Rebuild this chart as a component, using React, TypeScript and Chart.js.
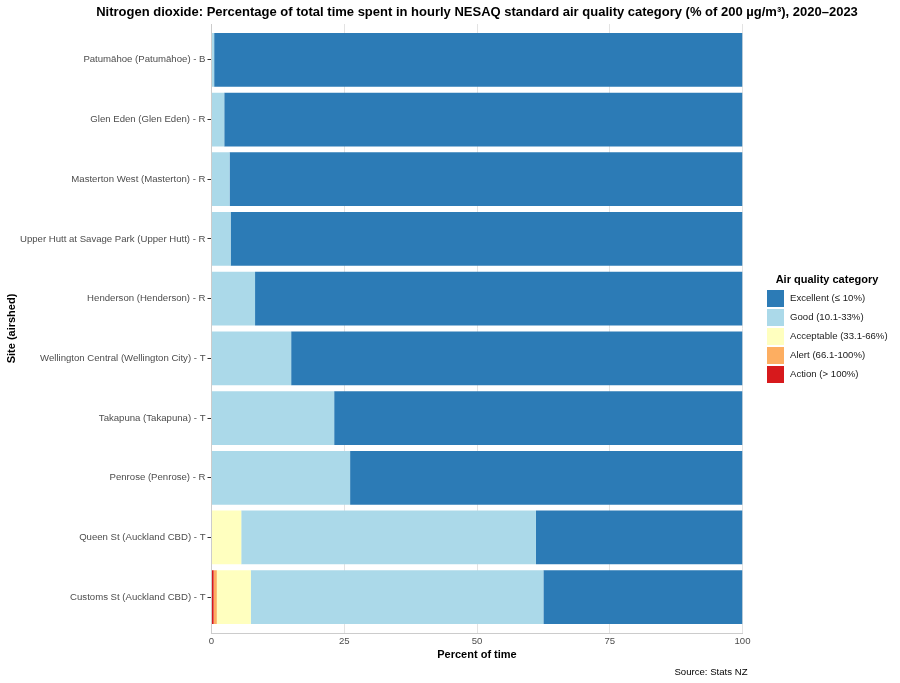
import React, { useEffect, useRef } from "react";
import { Chart, registerables } from "chart.js";

Chart.register(...registerables);

const categories = [
  "Patumāhoe (Patumāhoe) - B",
  "Glen Eden (Glen Eden) - R",
  "Masterton West (Masterton) - R",
  "Upper Hutt at Savage Park (Upper Hutt) - R",
  "Henderson (Henderson) - R",
  "Wellington Central (Wellington City) - T",
  "Takapuna (Takapuna) - T",
  "Penrose (Penrose) - R",
  "Queen St (Auckland CBD) - T",
  "Customs St (Auckland CBD) - T",
];

const actionVals = [0, 0, 0, 0, 0, 0, 0, 0, 0, 0.4];
const alertVals = [0, 0, 0, 0, 0, 0, 0, 0, 0, 0.6];
const acceptableVals = [0, 0, 0, 0, 0, 0, 0, 0, 5.6, 6.4];
const goodVals = [0.5, 2.4, 3.4, 3.6, 8.2, 15.0, 23.1, 26.1, 55.5, 55.1];
const excellentVals = [99.5, 97.6, 96.6, 96.4, 91.8, 85.0, 76.9, 73.9, 38.9, 37.5];

const seriesLabels = [
  "Action (> 100%)",
  "Alert (66.1-100%)",
  "Acceptable (33.1-66%)",
  "Good (10.1-33%)",
  "Excellent (≤ 10%)",
];
const seriesColors = ["#d7191c", "#fdae61", "#ffffbf", "#abd9e9", "#2c7bb6"];

const xTicks = [0, 25, 50, 75, 100];

const titleText =
  "Nitrogen dioxide: Percentage of total time spent in hourly NESAQ standard air quality category (% of 200 µg/m³), 2020–2023";
const captionText = "Source: Stats NZ";
const legendTitle = "Air quality category";

const FONT = "'Liberation Sans', Arial, sans-serif";

export default function App() {
  const ref = useRef<HTMLCanvasElement | null>(null);

  useEffect(() => {
    document.body.style.margin = "0";
    const canvas = ref.current;
    if (!canvas) return;

    const allVals = [actionVals, alertVals, acceptableVals, goodVals, excellentVals];

    const decor = {
      id: "decor",
      afterDraw(chart: any) {
        const { ctx, chartArea } = chart;
        ctx.save();
        // title
        ctx.fillStyle = "#000";
        ctx.font = `bold 13px ${FONT}`;
        ctx.textAlign = "center";
        ctx.textBaseline = "middle";
        ctx.fillText(titleText, (chartArea.left + chartArea.right) / 2, 12);
        // caption
        ctx.font = `9.6px ${FONT}`;
        ctx.textAlign = "right";
        ctx.fillText(captionText, chartArea.right + 5, 672);
        // legend
        const lx = chartArea.right + 24.5;
        const ly = 290;
        ctx.font = `bold 11px ${FONT}`;
        ctx.textAlign = "center";
        ctx.fillText(legendTitle, lx + 60, 280);
        const ds = chart.data.datasets;
        const order = ds.map((_: any, i: number) => i).reverse();
        order.forEach((di: number, k: number) => {
          const d = ds[di];
          const y = ly + k * 19;
          ctx.fillStyle = d.backgroundColor;
          ctx.fillRect(lx, y, 17, 17);
          ctx.fillStyle = "#1a1a1a";
          ctx.font = `9.6px ${FONT}`;
          ctx.textAlign = "left";
          ctx.fillText(d.label, lx + 23, y + 8.5);
        });
        ctx.restore();
      },
    };

    const chart = new Chart(canvas, {
      type: "bar",
      data: {
        datasets: seriesLabels.map((label, si) => ({
          label,
          data: allVals[si].map((v, i) => ({ x: v, y: i })),
          backgroundColor: seriesColors[si],
          borderWidth: 0,
          barPercentage: 0.9,
          categoryPercentage: 1,
        })),
      },
      options: {
        indexAxis: "y",
        animation: false,
        responsive: false,
        devicePixelRatio: 1,
        layout: { padding: { left: 0, right: 157.5, top: 24, bottom: 0 } },
        plugins: {
          legend: { display: false },
          title: { display: false },
          tooltip: { enabled: false },
        },
        scales: {
          x: {
            type: "linear",
            stacked: true,
            min: 0,
            max: 100,
            afterBuildTicks: (scale: any) => {
              scale.ticks = xTicks.map((v) => ({ value: v }));
            },
            afterFit: (scale: any) => {
              scale.height = 50;
            },
            grid: {
              display: true,
              drawTicks: false,
              color: "#e3e3e3",
              lineWidth: 1,
            },
            border: { display: true, color: "#cccccc", width: 1 },
            ticks: {
              color: "#4d4d4d",
              font: { family: FONT, size: 9.6 },
              padding: 3,
              maxRotation: 0,
            },
            title: {
              display: true,
              text: "Percent of time",
              color: "#000",
              font: { family: FONT, size: 11, weight: "bold" },
              padding: { top: 2, bottom: 21.4 },
            },
          },
          y: {
            type: "linear",
            stacked: true,
            reverse: true,
            offset: false,
            min: -0.6,
            max: 9.6,
            afterBuildTicks: (scale: any) => {
              scale.ticks = categories.map((_, i) => ({ value: i }));
            },
            afterFit: (scale: any) => {
              scale.width = 211.5;
            },
            grid: {
              display: true,
              offset: false,
              drawOnChartArea: false,
              drawTicks: true,
              tickLength: 4,
              color: "#333333",
            },
            border: { display: true, color: "#cccccc", width: 1 },
            ticks: {
              color: "#4d4d4d",
              font: { family: FONT, size: 9.6 },
              padding: 2,
              autoSkip: false,
              callback: (v: any) => categories[v as number] ?? "",
            },
            title: {
              display: true,
              text: "Site (airshed)",
              color: "#000",
              font: { family: FONT, size: 11, weight: "bold" },
              padding: { top: 5.4, bottom: 2 },
            },
          },
        },
      },
      plugins: [decor],
    } as any);

    return () => chart.destroy();
  }, []);

  return (
    <div style={{ width: 900, height: 683 }}>
      <canvas ref={ref} width={900} height={683} style={{ display: "block" }} />
    </div>
  );
}
